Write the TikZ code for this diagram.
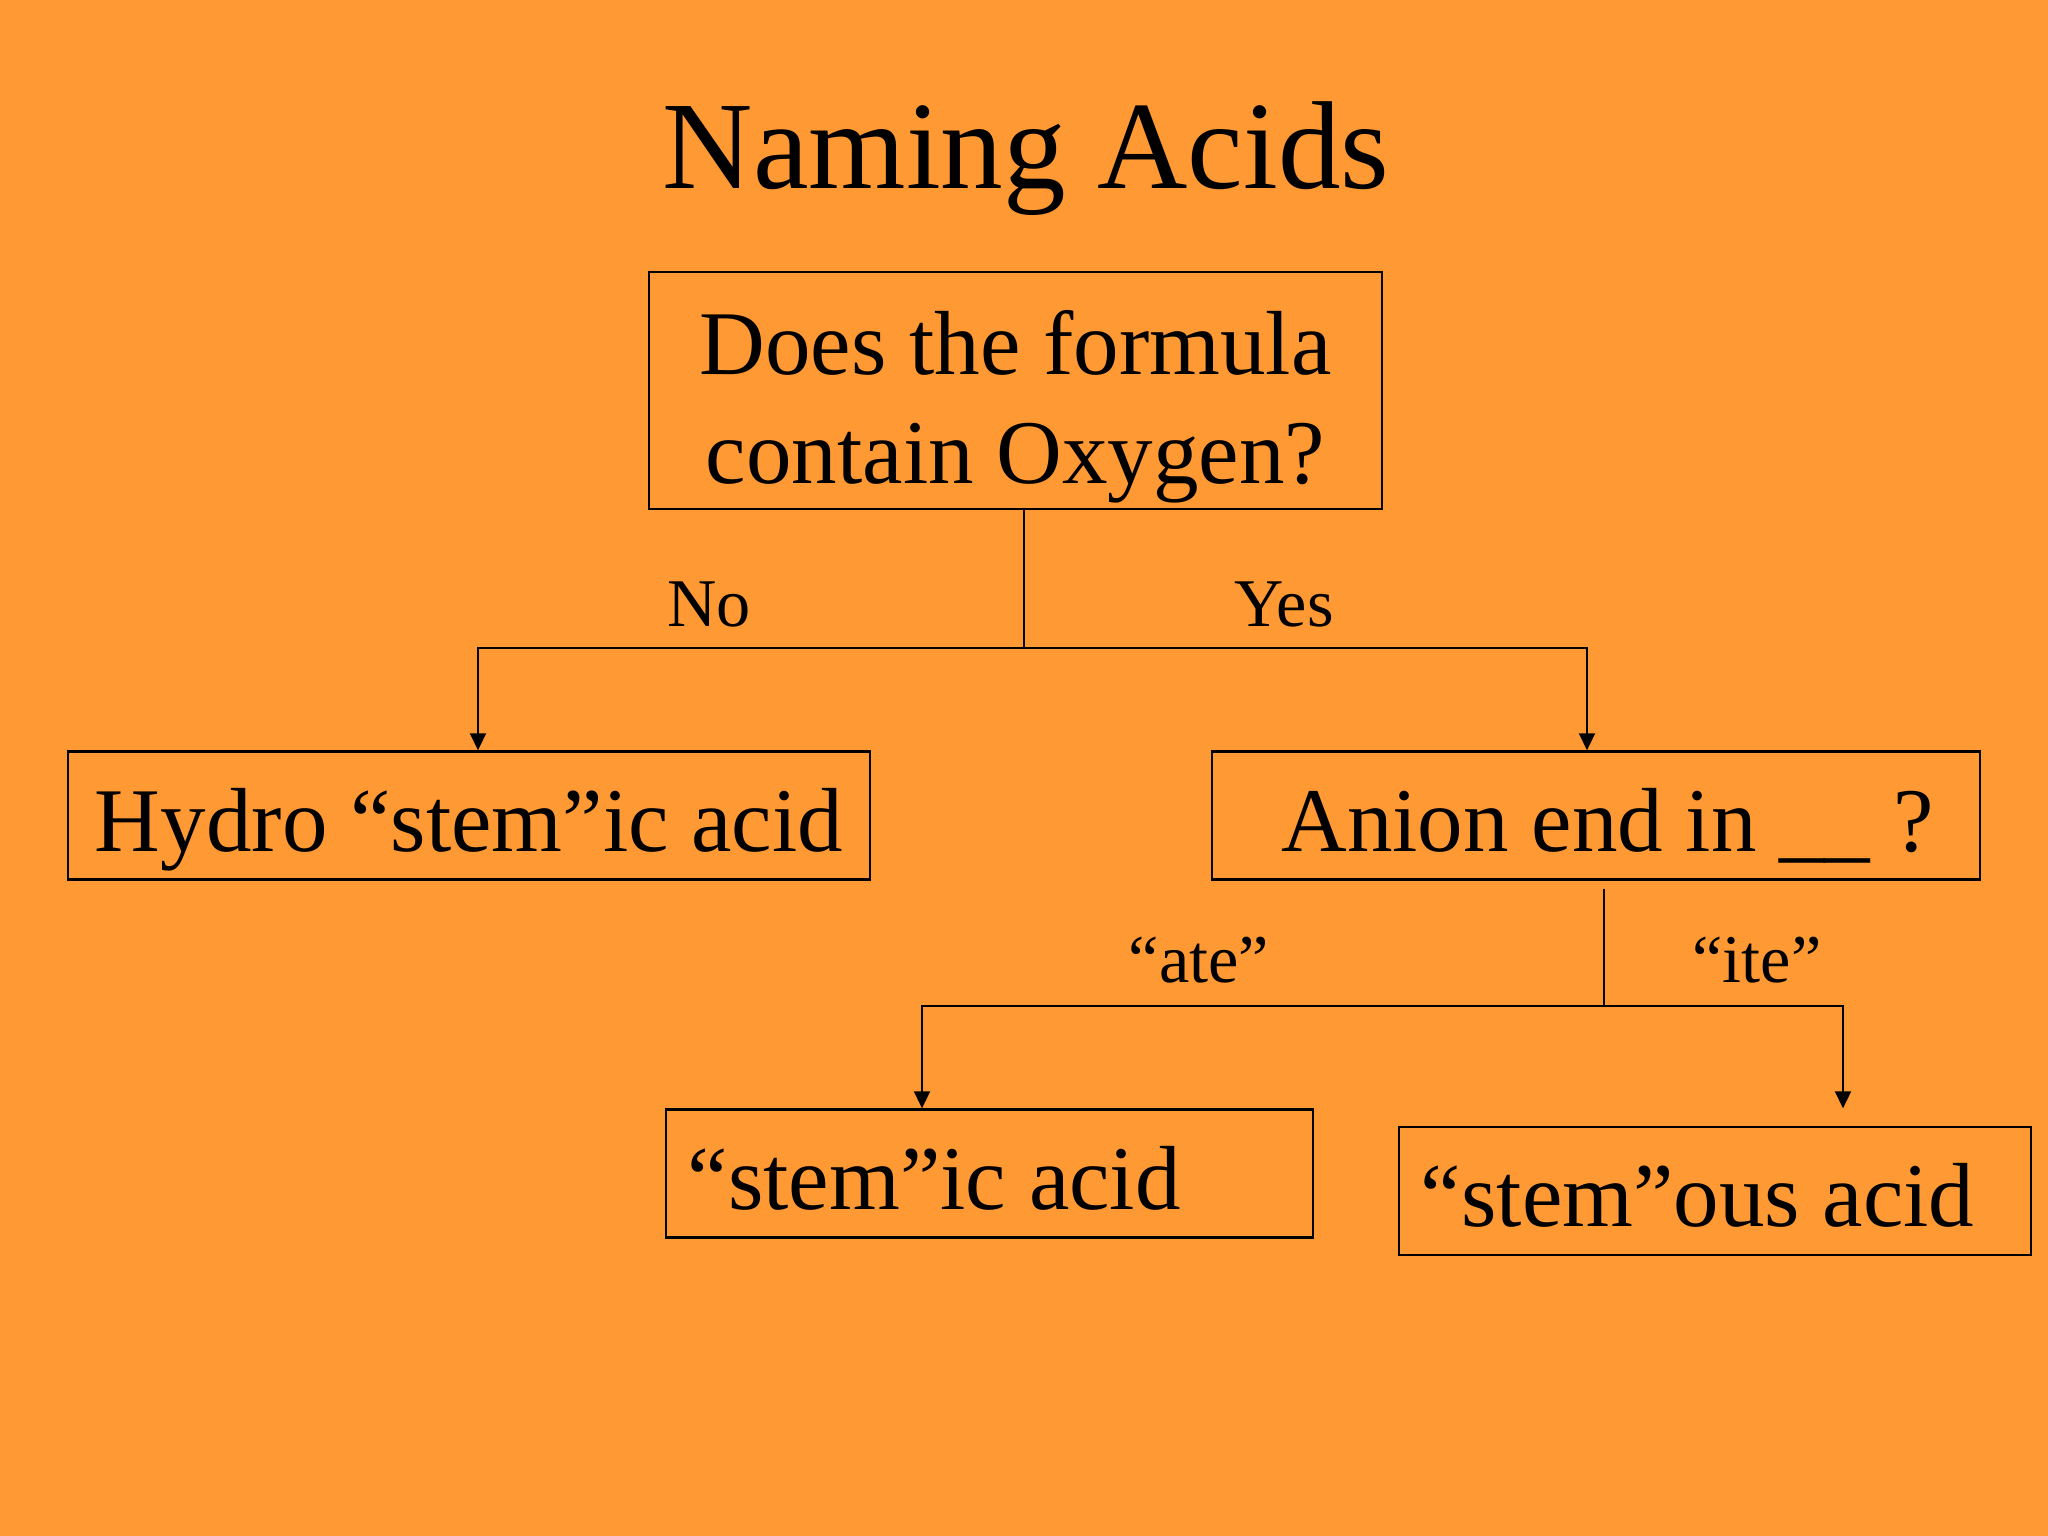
\documentclass[tikz,border=0pt]{standalone}
\usepackage{fontspec}
\setmainfont{Liberation Serif}
\usetikzlibrary{arrows.meta}
\definecolor{arancio}{HTML}{FF9933}

\begin{document}
\begin{tikzpicture}[x=0.35156pt,y=-0.35156pt]
% definizione stile dei riquadri
\tikzset{mybox/.style={rectangle,draw,line width=0.8pt,inner xsep=0pt,inner ysep=0pt,font=\fontsize{32}{38}\selectfont,text height=35pt,text depth=10pt}}
% riquadri con testo allineato a sinistra
\tikzset{myleftbox/.style={mybox,inner xsep=7.7pt,text width=#1,align=flush left}}
% etichette dei rami
\tikzset{mylabel/.style={anchor=base,font=\fontsize{24}{29}\selectfont}}
\tikzset{myline/.style={line width=0.75pt}}
\tikzset{myarrow/.style={myline,-{Triangle[length=6pt,width=5.6pt]}}}

%----
% sfondo
\fill[arancio] (0,0) rectangle (2048,1536);
\useasboundingbox (0,0) rectangle (2048,1536);

% titolo
\node[anchor=base,font=\fontsize{44}{53}\selectfont] (titolo) at (1026,189) {Naming Acids};

% inserimento riquadri
\node[mybox,minimum width=257.7pt,align=center,text height=74.2pt,text depth=9.1pt] (ossigeno) at (1015.5,390.5) {Does the formula\\contain Oxygen?};
\node[mybox,minimum width=282pt] (idro) at (469,815.5) {Hydro “stem”ic acid\hspace{3pt}};
\node[mybox,minimum width=270pt] (anione) at (1596,815.5) {\ Anion end in \_\_ ?};
\node[myleftbox=212.1pt] (ico) at (989.5,1173.5) {“stem”ic acid};
\node[myleftbox=206.8pt] (oso) at (1715,1191) {“stem”ous acid};

% punti di biforcazione
\coordinate (bivio1) at (1024,648);
\coordinate (sx1) at (478,648);
\coordinate (dx1) at (1587,648);
\coordinate (bivio2) at (1604,1006);
\coordinate (sx2) at (922,1006);
\coordinate (dx2) at (1843,1006);

% inserimento path che collegano i riquadri
\draw[myline] (ossigeno.south -| bivio1) -- (bivio1);
\draw[myarrow] (bivio1) -- (sx1) -- (sx1 |- idro.north);
\draw[myarrow] (bivio1) -- (dx1) -- (dx1 |- anione.north);
\draw[myline,shorten <=2.8pt] (anione.south -| bivio2) -- (bivio2);
\draw[myarrow] (bivio2) -- (sx2) -- (sx2 |- ico.north);
\draw[myarrow] (bivio2) -- (dx2) -- (dx2 |- ico.north);

% inserimento label dei rami
\foreach \x/\y/\nome/\testo in {709/627/lno/No,1284/627/lyes/Yes,1199/982/late/“ate”,1757/982/lite/“ite”}
\node[mylabel] (\nome) at (\x,\y) {\testo};
\end{tikzpicture}
\end{document}
